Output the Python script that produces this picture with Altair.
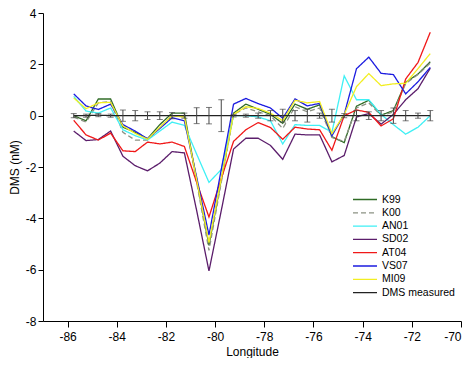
import altair as alt
import pandas as pd

lon = [-85.75, -85.25, -84.75, -84.25, -83.75, -83.25, -82.75, -82.25, -81.75, -81.25,
       -80.75, -80.25, -79.75, -79.25, -78.75, -78.25, -77.75, -77.25, -76.75, -76.25,
       -75.75, -75.25, -74.75, -74.25, -73.75, -73.25, -72.75, -72.25, -71.75, -71.25]

series_names = ["K99", "K00", "AN01", "SD02", "AT04", "VS07", "MI09", "DMS measured"]

k99 = [0.0, -0.2, 0.65, 0.65, -0.45, -0.65, -0.9, -0.35, 0.1, 0.1,
       -2.5, -5.05, -2.5, 0.1, 0.45, 0.25, 0.05, -0.3, 0.45, 0.25,
       0.42, -0.82, -1.05, 0.37, 0.6, 0.02, 0.2, 1.3, 1.62, 2.1]
k00 = [-0.05, -0.25, 0.5, 0.55, -0.65, -0.95, -0.95, -0.45, 0.0, -0.05,
       -2.6, -5.25, -2.6, 0.05, 0.3, 0.15, 0.0, -0.5, 0.35, 0.15,
       0.3, -0.85, -1.0, 0.3, 0.5, 0.0, 0.15, 1.25, 1.6, 2.05]
an01 = [0.75, 0.18, 0.1, 0.3, -0.55, -0.78, -0.95, -0.6, -0.25, -0.38,
        -1.5, -2.6, -2.1, 0.0, 0.0, -0.05, -0.2, -1.1, -0.35, -0.38,
        -0.38, -0.65, 1.55, 0.62, 0.62, 0.05, -0.35, -0.72, -0.45, 0.0]
sd02 = [-0.6, -0.97, -0.93, -0.6, -1.58, -1.95, -2.15, -1.85, -1.4, -1.45,
        -3.7, -6.05, -3.7, -1.3, -0.88, -0.88, -1.16, -1.7, -0.72, -0.75,
        -0.75, -1.8, -1.55, -0.05, 0.08, -0.33, 0.05, 0.62, 1.05, 1.85]
at04 = [-0.18, -0.75, -0.95, -0.68, -1.37, -1.4, -1.03, -1.1, -1.03, -1.2,
        -2.6, -3.95, -2.45, -1.0, -0.55, -0.27, -0.46, -0.92, -0.45, -0.52,
        -0.55, -1.35, 0.0, 0.22, 0.13, -0.4, -0.12, 1.43, 2.07, 3.25]
vs07 = [0.85, 0.38, 0.24, 0.45, -0.35, -0.6, -0.9, -0.5, -0.08, -0.2,
        -2.4, -4.65, -2.1, 0.45, 0.67, 0.47, 0.3, -0.1, 0.65, 0.38,
        0.48, -0.78, 0.05, 1.83, 2.28, 1.65, 1.6, 0.85, 1.32, 1.88]
mi09 = [0.69, 0.27, 0.5, 0.52, -0.4, -0.69, -0.92, -0.45, 0.0, -0.05,
        -2.5, -4.95, -2.45, 0.05, 0.35, 0.28, 0.1, -0.2, 0.6, 0.5,
        0.55, -0.7, 0.05, 1.13, 1.64, 1.17, 1.24, 1.26, 1.83, 2.42]
measured = [0.0, 0.0, 0.02, 0.0, 0.0, 0.0, 0.0, 0.0, 0.0, 0.0,
            0.0, 0.0, 0.0, 0.0, 0.0, 0.0, 0.0, 0.0, 0.0, 0.0,
            0.0, 0.0, 0.0, 0.0, 0.0, 0.0, 0.0, 0.0, 0.0, 0.0]
measured_err = [0.08, 0.06, 0.06, 0.06, 0.22, 0.2, 0.15, 0.15, 0.12, 0.1,
                0.31, 0.32, 0.62, 0.05, 0.06, 0.1, 0.2, 0.25, 0.2, 0.25,
                0.1, 0.25, 0.08, 0.2, 0.15, 0.2, 0.3, 0.2, 0.1, 0.2]

colors = ["#2f6b25", "#8c9284", "#3ff0f5", "#5b1d6b", "#f01818", "#1c1ce0", "#f2ee22", "#222222"]
dashes = [[1, 0], [5, 3], [1, 0], [1, 0], [1, 0], [1, 0], [1, 0], [1, 0]]
widths = [1.3, 1.3, 1.3, 1.3, 1.3, 1.3, 1.3, 2.0]

all_series = [k99, k00, an01, sd02, at04, vs07, mi09, measured]
rows = []
for name, vals in zip(series_names, all_series):
    for x, v in zip(lon, vals):
        rows.append({"lon": x, "dms": v, "series": name})
df = pd.DataFrame(rows)
err_df = pd.DataFrame({"lon": lon, "dms": measured, "err": measured_err})

FONT = "Liberation Sans"

x_enc = alt.X("lon:Q", title="Longitude",
              scale=alt.Scale(domain=[-87, -70], nice=False, zero=False),
              axis=alt.Axis(values=list(range(-86, -69)),
                            labelExpr="datum.value % 2 === 0 ? '' + datum.value : ''",
                            tickSize={"condition": {"test": "datum.value % 2 === 0", "value": 6}, "value": 3},
                            grid=False, labelPadding=4, titlePadding=4))
y_enc = alt.Y("dms:Q", title="DMS (nM)",
              scale=alt.Scale(domain=[-8, 4], nice=False),
              axis=alt.Axis(values=list(range(-8, 5)),
                            labelExpr="datum.value % 2 === 0 ? '' + datum.value : ''",
                            tickSize={"condition": {"test": "datum.value % 2 === 0", "value": 5}, "value": 3},
                            grid=False, labelPadding=2, titlePadding=4))

legend = alt.Legend(orient="none", legendX=309, legendY=180, title=None,
                    symbolType="stroke", symbolSize=576, symbolStrokeWidth=1.5,
                    clipHeight=13, rowPadding=0.3, labelFont=FONT, labelFontSize=10.5,
                    labelColor="black", labelOffset=4, padding=0)

lines = alt.Chart(df).mark_line().encode(
    x=x_enc,
    y=y_enc,
    color=alt.Color("series:N", scale=alt.Scale(domain=series_names, range=colors), legend=legend),
    strokeDash=alt.StrokeDash("series:N", scale=alt.Scale(domain=series_names, range=dashes), legend=legend),
    strokeWidth=alt.StrokeWidth("series:N", scale=alt.Scale(domain=series_names, range=widths), legend=None),
)

errbars = alt.Chart(err_df).mark_errorbar(ticks={"size": 6}, color="#444444", thickness=1).encode(
    x=alt.X("lon:Q", title="Longitude"),
    y=alt.Y("dms:Q", title="DMS (nM)"),
    yError=alt.YError("err:Q"),
)

chart = alt.layer(lines, errbars).properties(
    width=418, height=308,
    padding={"left": 35, "top": 5, "right": 5, "bottom": 37},
    autosize=alt.AutoSizeParams(type="none"),
).configure_view(stroke=None).configure_axis(
    labelFont=FONT, titleFont=FONT, labelFontSize=12, titleFontSize=12,
    titleFontWeight="normal", labelColor="black", titleColor="black",
    domainColor="black", tickColor="black", domainWidth=1, tickWidth=1,
)

chart.save("out.html", embed_options={"renderer": "svg", "actions": False})
